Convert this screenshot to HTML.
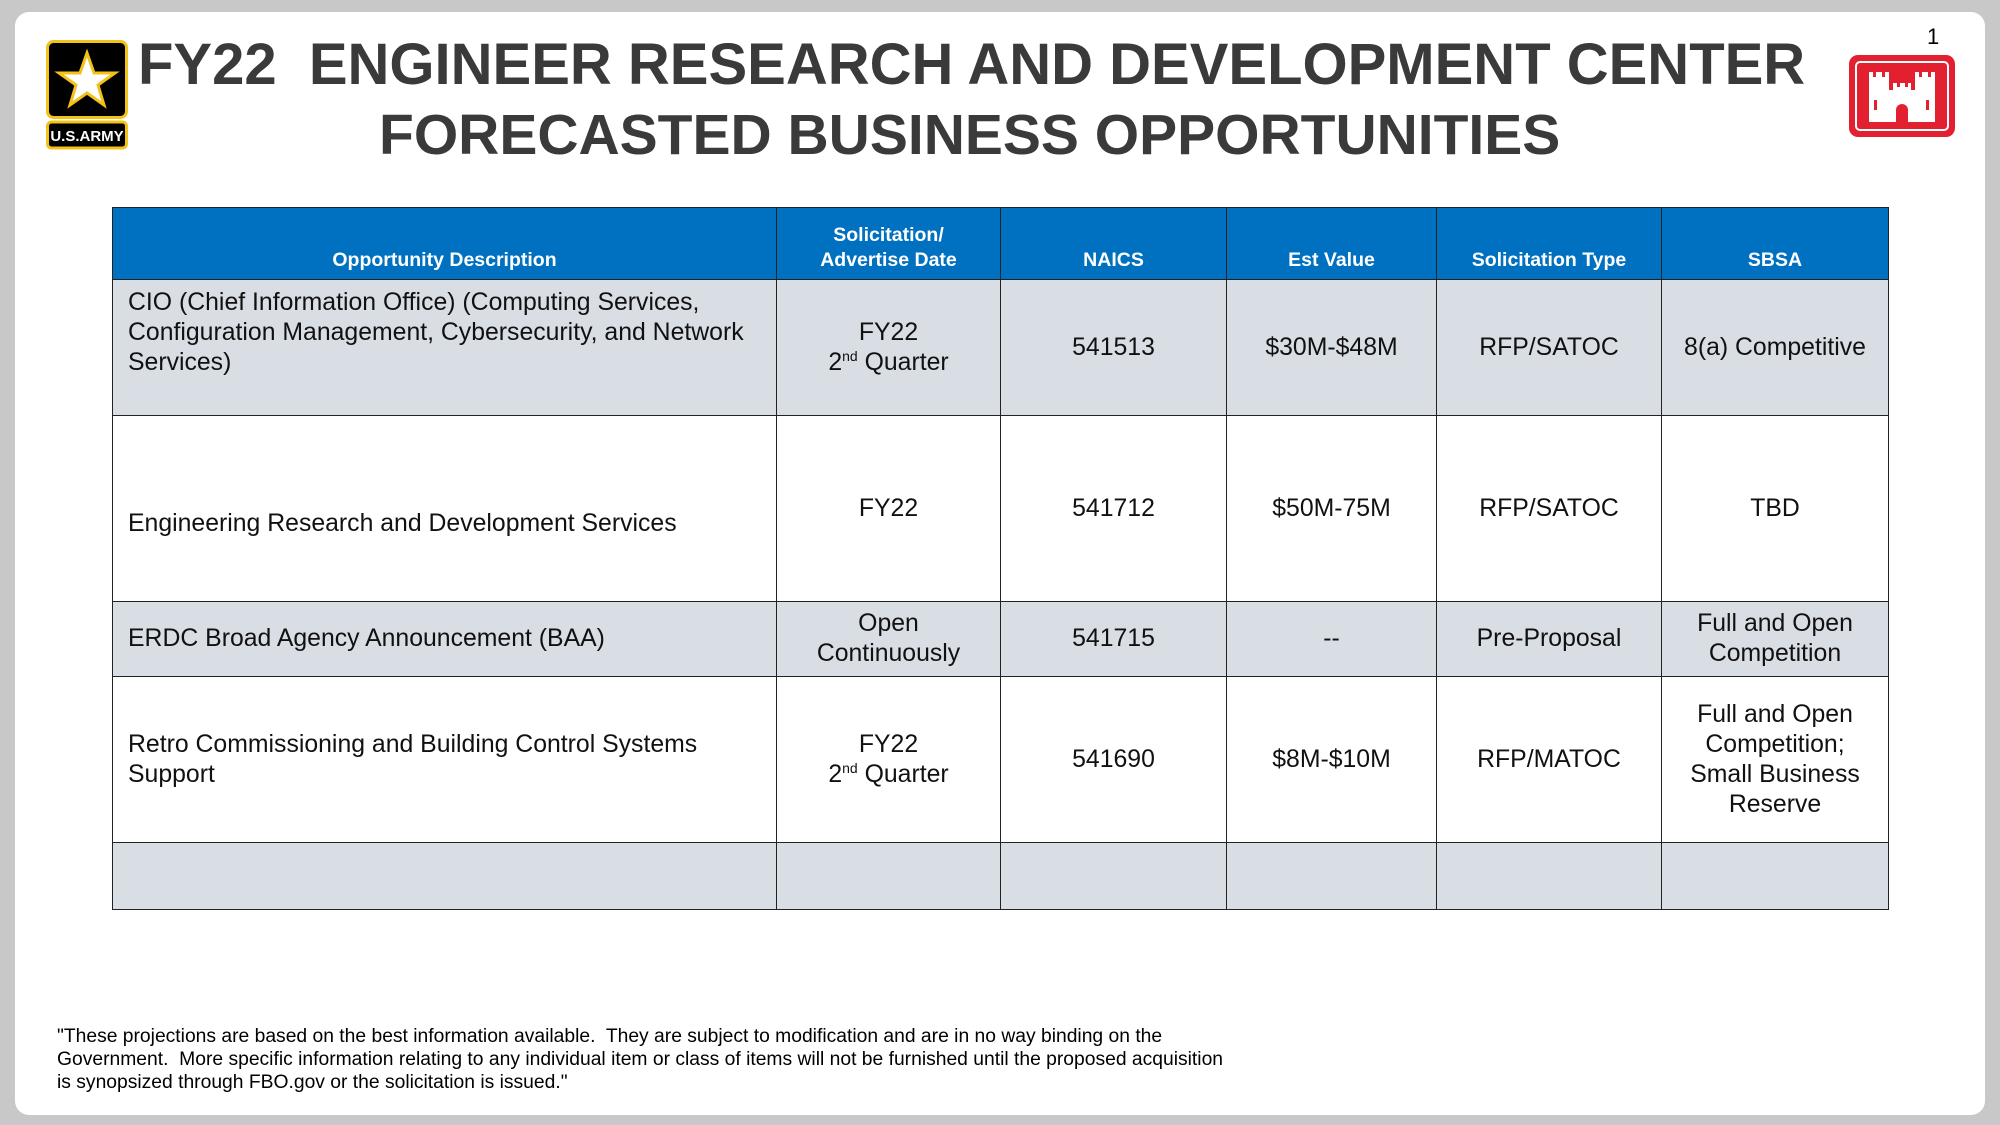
<!DOCTYPE html>
<html><head><meta charset="utf-8"><style>
html,body{margin:0;padding:0}
body{width:2000px;height:1125px;background:#c8c8c8;position:relative;overflow:hidden;font-family:"Liberation Sans",Arial,sans-serif}
.card{position:absolute;left:15px;top:12px;width:1970px;height:1103px;background:#fff;border-radius:14px}
table{position:absolute;left:112px;top:207px;border-collapse:collapse;table-layout:fixed}
td,th{border:1.5px solid #222;font-size:24.8px;color:#111;text-align:center;line-height:30px;padding:0 6px}
th{background:#0070c0;color:#fff;font-size:19.5px;line-height:25px;vertical-align:bottom;padding-bottom:6px}
tr.g td{background:#d9dee5}
td.l{text-align:left;padding-left:15px}
sup{font-size:14px;vertical-align:top;line-height:16px}
.f{position:absolute;left:57px;top:1025px;font-size:19.3px;line-height:23px;color:#000;white-space:nowrap}
</style></head><body>
<div class="card"></div>
<div style="position:absolute;left:138px;top:30px;font-weight:bold;color:#3a3a3a;font-size:58px;line-height:70px;white-space:nowrap">FY22&nbsp; ENGINEER RESEARCH AND DEVELOPMENT CENTER</div>
<div style="position:absolute;left:379px;top:100px;font-weight:bold;color:#3a3a3a;font-size:57px;line-height:70px;white-space:nowrap">FORECASTED BUSINESS OPPORTUNITIES</div>
<div style="position:absolute;left:1927px;top:24px;font-size:22px">1</div>
<svg style="position:absolute;left:46px;top:40px" width="82" height="110" viewBox="0 0 82 110">
<rect x="1.5" y="1.5" width="79" height="76" rx="6" fill="#000" stroke="#f2c21b" stroke-width="3"/>
<polygon points="41,13 48,33 69,33 52,45 58,65 41,53 24,65 30,45 13,33 34,33" fill="#fff" stroke="#f2c21b" stroke-width="3"/>
<rect x="1.5" y="82" width="79" height="26" rx="4" fill="#000" stroke="#f2c21b" stroke-width="3"/>
<text x="41" y="101" text-anchor="middle" fill="#fff" font-family="Liberation Sans" font-weight="bold" font-size="15">U.S.ARMY</text>
</svg>
<svg style="position:absolute;left:1849px;top:55px" width="106" height="82" viewBox="0 0 106 82">
<rect x="0" y="0" width="106" height="82" rx="9" fill="#e3202f"/>
<rect x="7" y="7" width="92" height="68" rx="4" fill="none" stroke="#fff" stroke-width="2"/>
<g fill="#fff">
<rect x="20" y="17" width="20" height="50"/><rect x="66" y="17" width="20" height="50"/><rect x="36" y="35" width="34" height="32"/>
<rect x="44" y="28" width="18" height="10"/>
</g>
<g fill="#e3202f">
<rect x="24" y="17" width="3" height="5"/><rect x="33" y="17" width="3" height="5"/><rect x="70" y="17" width="3" height="5"/><rect x="79" y="17" width="3" height="5"/>
<rect x="48" y="28" width="3" height="4"/><rect x="56" y="28" width="3" height="4"/>
<path d="M47 67 V55 a6 6 0 0 1 12 0 V67 Z"/>
<rect x="25" y="45" width="3" height="10"/><rect x="77" y="45" width="3" height="10"/>
</g>
</svg>
<table>
<colgroup><col style="width:664px"><col style="width:224px"><col style="width:226px"><col style="width:210px"><col style="width:225px"><col style="width:227px"></colgroup>
<tr style="height:72px"><th>Opportunity Description</th><th>Solicitation/<br>Advertise Date</th><th>NAICS</th><th>Est Value</th><th>Solicitation Type</th><th>SBSA</th></tr>
<tr class="g" style="height:136px"><td class="l" style="vertical-align:top;padding-top:8px">CIO (Chief Information Office) (Computing Services,<br>Configuration Management, Cybersecurity, and Network<br>Services)</td><td>FY22<br>2<sup>nd</sup> Quarter</td><td>541513</td><td>$30M-$48M</td><td>RFP/SATOC</td><td>8(a) Competitive</td></tr>
<tr style="height:186px"><td class="l" style="padding-top:30px">Engineering Research and Development Services</td><td>FY22</td><td>541712</td><td>$50M-75M</td><td>RFP/SATOC</td><td>TBD</td></tr>
<tr class="g" style="height:75px"><td class="l">ERDC Broad Agency Announcement (BAA)</td><td>Open<br>Continuously</td><td>541715</td><td>--</td><td>Pre-Proposal</td><td>Full and Open<br>Competition</td></tr>
<tr style="height:166px"><td class="l">Retro Commissioning and Building Control Systems<br>Support</td><td>FY22<br>2<sup>nd</sup> Quarter</td><td>541690</td><td>$8M-$10M</td><td>RFP/MATOC</td><td>Full and Open<br>Competition;<br>Small Business<br>Reserve</td></tr>
<tr class="g" style="height:67px"><td></td><td></td><td></td><td></td><td></td><td></td></tr>
</table>
<div class="f">"These projections are based on the best information available.&nbsp; They are subject to modification and are in no way binding on the<br>Government.&nbsp; More specific information relating to any individual item or class of items will not be furnished until the proposed acquisition<br>is synopsized through FBO.gov or the solicitation is issued."</div>
</body></html>
